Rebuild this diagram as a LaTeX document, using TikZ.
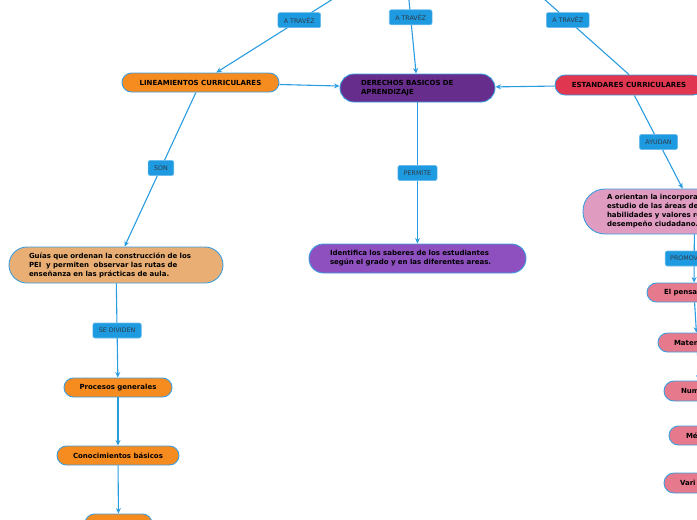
\documentclass[tikz,border=0pt]{standalone}
\usepackage{fontspec}
\setmainfont{DejaVu Sans}
\usetikzlibrary{arrows.meta}
\definecolor{bd}{HTML}{3C9EE0}
\definecolor{ln}{HTML}{2A9CE0}
\definecolor{lblfill}{HTML}{1E9AE0}
\definecolor{lbldraw}{HTML}{6BBCEC}
\definecolor{lbltext}{HTML}{2F3A45}
\definecolor{orangec}{HTML}{F68B1F}
\definecolor{dpurple}{HTML}{662D8C}
\definecolor{mpurple}{HTML}{8E50BF}
\definecolor{redc}{HTML}{E0364F}
\definecolor{tanc}{HTML}{E8AE73}
\definecolor{pinkc}{HTML}{E09BC1}
\definecolor{rosec}{HTML}{E67A8C}
\begin{document}
\begin{tikzpicture}[x=1pt,y=-1pt,
  pill/.style={draw=bd, line width=0.9pt, rounded corners=#1, inner ysep=0pt,
    text=black, font=\fontsize{7}{9}\selectfont\bfseries},
  ctext/.style 2 args={minimum width=#1, minimum height=#2, inner xsep=0pt, align=center},
  ltext/.style n args={3}{text width=#1-2*#3, inner xsep=#3, minimum height=#2, align=left},
  lbl/.style={fill=lblfill, draw=lbldraw, line width=0.6pt, rounded corners=2pt,
    text=lbltext, font=\fontsize{6.3}{7}\selectfont, inner xsep=6pt, inner ysep=0pt,
    minimum height=15pt},
  conn/.style={draw=ln, line width=1.1pt},
  arr/.style={conn, -{Stealth[length=5.5pt,width=5pt]}}
]
\useasboundingbox (0,0) rectangle (697,520);
\clip (0,0) rectangle (697,520);

% off-canvas start points
\coordinate (t1) at (344,-8);
\coordinate (t2) at (408.2,-8);
\coordinate (t3) at (536.2,-8);

% main nodes
\node[pill=9.5pt, fill=orangec, ctext={157pt}{19pt}] (lin) at (200.5,82.5) {LINEAMIENTOS CURRICULARES};
\node[pill=14pt, fill=dpurple, ltext={155pt}{28pt}{21pt}] (dba) at (417.5,88) {DERECHOS BASICOS DE\\APRENDIZAJE};
\node[pill=10pt, fill=redc, ctext={148pt}{20pt}] (est) at (629,85) {ESTANDARES CURRICULARES};

\node[pill=18pt, fill=tanc, ltext={214pt}{36pt}{20pt}] (guias) at (116,265)
  {Guías que ordenan la construcción de los\\PEI\ \ y permiten\ \ observar las rutas de\\enseñanza en las prácticas de aula.};
\node[pill=9.5pt, fill=orangec, ctext={108pt}{19pt}] (proc) at (118,387.5) {Procesos generales};
\node[pill=9.5pt, fill=orangec, ctext={122pt}{19pt}] (con) at (118,455.5) {Conocimientos básicos};
\node[pill=9.5pt, fill=orangec, ctext={67pt}{19pt}] (bot) at (118.5,523.5) {};

\node[pill=14.5pt, fill=mpurple, ltext={217pt}{29pt}{21pt}] (ident) at (417.5,258.5)
  {Identifica los saberes de los estudiantes\\según el grado y en las diferentes areas.};

\node[pill=22pt, fill=pinkc, ltext={223pt}{45pt}{24pt}] (orient) at (694.5,211.5)
  {A orientan la incorpora\\estudio de las áreas de\\habilidades y valores re\\desempeño ciudadano.};
\node[pill=9.5pt, fill=rosec, ltext={94pt}{19pt}{17pt}] (pensa) at (694,292.5) {El pensa};
\node[pill=9.5pt, fill=rosec, ltext={78pt}{19pt}{16pt}] (matem) at (697,342.5) {Matem};
\node[pill=10pt, fill=rosec, ltext={70pt}{20pt}{17pt}] (num) at (699,391) {Num};
\node[pill=9.5pt, fill=rosec, ltext={60pt}{19pt}{17pt}] (me) at (699,435.5) {Mé};
\node[pill=10pt, fill=rosec, ltext={70pt}{20pt}{16pt}] (vari) at (699,483) {Vari};

% connectors
\draw[arr] (t1) -- node[lbl, pos=0.35] (at1) {A TRAVÉZ} (lin);
\draw[arr] (t2) -- node[lbl, pos=0.31] (at2) {A TRAVÉZ} (dba);
\draw[conn] (t3) -- node[lbl, pos=0.34] (at3) {A TRAVÉZ} (est.north);
\draw[arr] (lin) -- (dba);
\draw[arr] (est) -- (dba);
\draw[arr] (lin) -- node[lbl, pos=0.49] (son) {SON} (guias);
\draw[arr] (guias) -- node[lbl, pos=0.5] (sed) {SE DIVIDEN} (proc);
\draw[arr] (proc) -- (con);
\draw[arr] (con) -- (bot);
\draw[arr] (dba) -- node[lbl, pos=0.5] (perm) {PERMITE} (ident);
\draw[arr] (est) -- node[lbl, pos=0.5] (ayu) {AYUDAN} (orient);
\draw[arr] (orient) -- node[lbl, text width=48pt, align=left, inner xsep=5pt, pos=0.5] (prom) {PROMOV} (pensa);
\draw[arr] (pensa) -- (matem);
\draw[arr] (matem) -- (num);
\end{tikzpicture}
\end{document}
